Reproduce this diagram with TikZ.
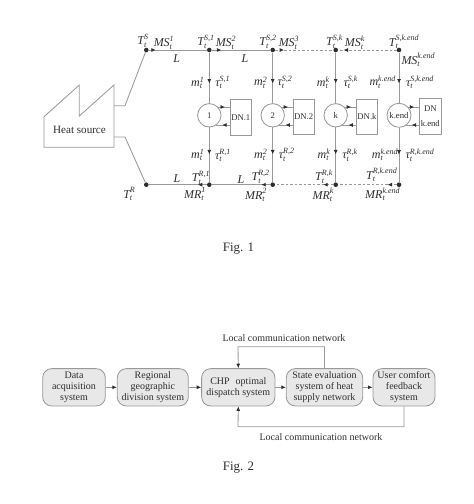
\documentclass[tikz,border=0pt]{standalone}
\usepackage{fontspec}
\setmainfont{Liberation Serif}
\usetikzlibrary{arrows.meta,decorations.markings}
\newcommand\vv[3]{$\mbox{\fontsize{12}{12}\selectfont\itshape #1}_{\mbox{\fontsize{8}{8}\selectfont\itshape #2}}^{\mbox{\fontsize{8}{8}\selectfont\itshape #3}}$}
\definecolor{lin}{gray}{0.6}
\definecolor{ink}{gray}{0.18}
\tikzset{
 conn/.style={draw=lin,line width=0.85pt},
 tipdark/.style={-{Latex[length=4.5pt,width=4pt,color=ink]}},
 midarr/.style={postaction={decorate,decoration={markings,mark=at position #1 with {\arrow{Latex[length=4.5pt,width=4pt,color=ink]}}}}},
 dashline/.style={dash pattern=on 2.5pt off 2pt},
 junction/.style={circle,fill=ink,inner sep=0pt,minimum size=4.6pt},
 station/.style={circle,draw=lin,line width=0.85pt,fill=white,minimum size=23.4pt,inner sep=0pt,font=\fontsize{8.7}{9}\selectfont,text=ink},
 dnbox/.style={draw=lin,line width=0.9pt,fill=white,inner sep=0pt,font=\fontsize{8.7}{9}\selectfont,text=ink},
 lab/.style={inner sep=0pt,text=ink},
 letter/.style={inner sep=0pt,text=ink,font=\fontsize{12}{12}\selectfont\itshape},
 sysbox/.style={draw=lin,line width=0.85pt,fill=black!9,rounded corners=9pt,inner sep=0pt,align=center,text=ink,font=\fontsize{10}{11}\selectfont},
 note/.style={inner sep=0pt,text=ink,font=\fontsize{10}{11}\selectfont},
 caption/.style={inner sep=0pt,text=ink,font=\fontsize{12.9}{13}\selectfont}
}
\begin{document}
\begin{tikzpicture}[x=1pt,y=-1pt]
\useasboundingbox (0,0) rectangle (474,504);
% factory
\draw[conn] (44,116.7) -- (79.3,85) -- (79.3,116) -- (114,85) -- (114,147.3) -- (44,147.3) -- cycle;
\node[lab,font=\fontsize{11.1}{12}\selectfont] (heat) at (79.5,130) {Heat source};
\coordinate (hs1) at (114,105.7);
\coordinate (hs1b) at (125,105.7);
\coordinate (hs2) at (114,137);
\coordinate (hs2b) at (125,137);
% junctions
\node[junction] (st0) at (146.3,50) {};
\node[junction] (st1) at (209.3,50) {};
\node[junction] (st2) at (272.7,50) {};
\node[junction] (stk) at (335.7,50) {};
\node[junction] (ste) at (399,50) {};
\node[junction] (sb0) at (146.3,184.7) {};
\node[junction] (sb1) at (209.3,184.7) {};
\node[junction] (sb2) at (272.7,184.7) {};
\node[junction] (sbk) at (335.7,184.7) {};
\node[junction] (sbe) at (399,184.7) {};
% stations
\node[station] (c1) at (209.3,115.3) {1};
\node[station] (c2) at (272.7,115.3) {2};
\node[station] (ck) at (335.7,115.3) {k};
\node[station,minimum size=24pt] (ce) at (399,115.3) {k.end};
% DN boxes
\node[dnbox,minimum width=21pt,minimum height=35.5pt] (d1) at (240.8,117.5) {DN.1};
\node[dnbox,minimum width=20.7pt,minimum height=35pt] (d2) at (303.7,116.8) {DN.2};
\node[dnbox,minimum width=21.4pt,minimum height=35pt] (dk) at (367,116.8) {DN.k};
\node[dnbox,minimum width=22pt,minimum height=35.5pt,align=center] (de) at (430.3,116.3) {DN\\[5.5pt]k.end};
% heat source links
\draw[conn] (hs1) -- (hs1b) -- (st0);
\draw[conn] (hs2) -- (hs2b) -- (sb0);
% supply line
\draw[conn,midarr=7pt] (st0) -- (st1);
\draw[conn,midarr=9.5pt] (st1) -- (st2);
\draw[conn,dashline,midarr=9pt] (st2) -- (stk);
\draw[conn,dashline,midarr=53pt] (ste) -- (stk);
% return line
\draw[conn,midarr=9pt] (sb1) -- (sb0);
\draw[conn,midarr=9pt] (sb2) -- (sb1);
\draw[conn,dashline,midarr=10pt] (sbk) -- (sb2);
\draw[conn,dashline,midarr=9pt] (sbe) -- (sbk);
% verticals
\foreach \a/\b/\c in {st1/sb1/c1,st2/sb2/c2,stk/sbk/ck,ste/sbe/ce}{
  \draw[conn,midarr=31pt] (\a) -- (\c);
  \draw[conn,midarr=27pt] (\c) -- (\b);
}
% DN links
\foreach \c/\d/\x in {c1/d1/209.3,c2/d2/272.7,ck/dk/335.7,ce/de/399}{
  \coordinate (\c u) at (\x+8.5,107);
  \coordinate (\c l) at (\x+6.5,125);
  \draw[conn,midarr=0.6] (\c u) -- (\c u -| \d.west);
  \draw[conn,midarr=0.55] (\c l -| \d.west) -- (\c l);
}
% labels
\node[lab] (a01) at (143,40.7) {\vv{T}{t}{S}};
\node[lab] (a02) at (164,42.7) {\vv{MS}{t}{1}};
\node[lab] (a03) at (206,41.7) {\vv{T}{t}{S,1}};
\node[lab] (a04) at (226,42.7) {\vv{MS}{t}{2}};
\node[lab] (a05) at (268,41.7) {\vv{T}{t}{S,2}};
\node[lab] (a06) at (289,42.7) {\vv{MS}{t}{3}};
\node[lab] (a07) at (334.5,41.7) {\vv{T}{t}{S,k}};
\node[lab] (a08) at (355,42.7) {\vv{MS}{t}{k}};
\node[lab] (a09) at (404,42) {\vv{T}{t}{S,k.end}};
\node[lab] (a10) at (418.3,60) {\vv{MS}{t}{k.end}};
\node[letter] (l1) at (176.7,58.5) {L};
\node[letter] (l2) at (245,58.5) {L};
\node[letter] (l3) at (177,179) {L};
\node[letter] (l4) at (241,180) {L};
\node[lab] (b1) at (197.7,83.3) {\vv{m}{t}{1}};
\node[lab] (b2) at (222.7,82.7) {\vv{τ}{t}{S,1}};
\node[lab] (b3) at (260.7,82.7) {\vv{m}{t}{2}};
\node[lab] (b4) at (285,82.3) {\vv{τ}{t}{S,2}};
\node[lab] (b5) at (323.3,82.7) {\vv{m}{t}{k}};
\node[lab] (b6) at (350.7,82.3) {\vv{τ}{t}{S,k}};
\node[lab] (b7) at (382.7,82.3) {\vv{m}{t}{k.end}};
\node[lab] (b8) at (420,82.3) {\vv{τ}{t}{S,k.end}};
\node[lab] (e1) at (197.7,155) {\vv{m}{t}{1}};
\node[lab] (e2) at (223,155.7) {\vv{τ}{t}{R,1}};
\node[lab] (e3) at (260.7,155) {\vv{m}{t}{2}};
\node[lab] (e4) at (286.7,155) {\vv{τ}{t}{R,2}};
\node[lab] (e5) at (324,155) {\vv{m}{t}{k}};
\node[lab] (e6) at (350,155) {\vv{τ}{t}{R,k}};
\node[lab] (e7) at (385,155) {\vv{m}{t}{k.end}};
\node[lab] (e8) at (420,155) {\vv{τ}{t}{R,k.end}};
\node[lab] (f1) at (129.3,194) {\vv{T}{t}{R}};
\node[lab] (f2) at (201,177.7) {\vv{T}{t}{R,1}};
\node[lab] (f3) at (195,194.3) {\vv{MR}{t}{1}};
\node[lab] (f4) at (260.7,176.7) {\vv{T}{t}{R,2}};
\node[lab] (f5) at (256,195) {\vv{MR}{t}{2}};
\node[lab] (f6) at (324,176.7) {\vv{T}{t}{R,k}};
\node[lab] (f7) at (323.3,195) {\vv{MR}{t}{k}};
\node[lab] (f8) at (381.7,175) {\vv{T}{t}{R,k.end}};
\node[lab] (f9) at (382.7,194.3) {\vv{MR}{t}{k.end}};
\node[caption] (fig1) at (238.5,249) {Fig. 1};
% Fig 2
\node[sysbox,minimum width=62.6pt,minimum height=37.3pt] (s1) at (74,387.3) {Data\\acquisition\\system};
\node[sysbox,minimum width=71pt,minimum height=37.3pt] (s2) at (152.8,387.3) {Regional\\geographic\\division system};
\node[sysbox,minimum width=73.3pt,minimum height=37.3pt] (s3) at (238.3,387.3) {CHP\hspace{0.6em}optimal\\dispatch system};
\node[sysbox,minimum width=76.4pt,minimum height=37.3pt] (s4) at (324.5,387.3) {State evaluation\\system of heat\\supply network};
\node[sysbox,minimum width=62pt,minimum height=37.3pt] (s5) at (404,387.3) {User comfort\\feedback\\system};
\draw[conn,tipdark] (s1) -- (s2);
\draw[conn,tipdark] (s2) -- (s3);
\draw[conn,tipdark] (s3) -- (s4);
\draw[conn,tipdark] (s4) -- (s5);
\coordinate (top) at (238,346.7);
\coordinate (bot) at (238,426.7);
\draw[conn,tipdark] (s4.north) -- (s4.north |- top) -- (top) -- (s3.north);
\draw[conn,tipdark] (s5.south) -- (s5.south |- bot) -- (bot) -- (s3.south);
\node[note] (n1) at (284,338) {Local communication network};
\node[note] (n2) at (321,436.7) {Local communication network};
\node[caption] (fig2) at (238.5,468) {Fig. 2};
\end{tikzpicture}
\end{document}
